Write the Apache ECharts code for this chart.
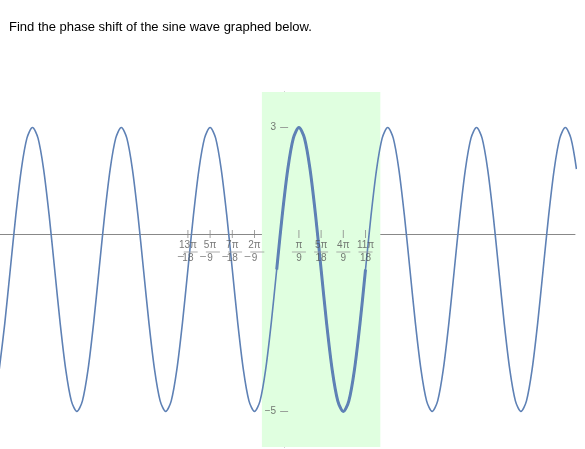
<!DOCTYPE html>
<html>
<head>
<meta charset="UTF-8">
<script src="https://cdn.jsdelivr.net/npm/echarts@6/dist/echarts.min.js"></script>
<style>body{margin:0;background:#fff}#c{width:585px;height:449px}</style>
</head>
<body>
<div id="c"></div>
<script>
var P = Math.PI;
var cycleY = [-1, 0.53, 1.83, 2.70, 3, 2.70, 1.83, 0.53, -1, -2.53, -3.83, -4.70, -5, -4.70, -3.83, -2.53];
var start = -P / 18, step = P / 24;
var tickVals = [-13, -10, -7, -4, 2, 5, 8, 11];     // in pi/18
var tickNum = ['13π', '5π', '7π', '2π', 'π', '5π', '4π', '11π'];
var tickDen = ['18', '9', '18', '9', '9', '18', '9', '18'];
var yTicks = [3, -5];
var greenBand = [-3 * P / 18, 13 * P / 18];

var all = [], hi = [];
for (var k = -50; k <= 54; k++) {
    var pt = [start + k * step, cycleY[((k % 16) + 16) % 16]];
    all.push(pt);
    if (k >= 0 && k <= 16) hi.push(pt);
}
var xTickData = tickVals.map(function (v, i) { return {value: [v * P / 18, 0], idx: i}; });
var yTickData = yTicks.map(function (v) { return [0, v]; });

var chart = echarts.init(document.getElementById('c'));
chart.setOption({
    animation: false,
    title: {text: 'Find the phase shift of the sine wave graphed below.', left: 4, top: 16,
        textStyle: {fontSize: 13, fontWeight: 'normal', color: '#000', fontFamily: 'Liberation Sans'}},
    grid: {left: 0, right: 10, top: 92, bottom: 2, containLabel: false, outerBoundsMode: 'none'},
    xAxis: {
        type: 'value', min: -6.70, max: 6.86,
        splitLine: {show: false}, axisTick: {show: false}, axisLabel: {show: false},
        axisLine: {onZero: true, lineStyle: {color: '#888'}}
    },
    yAxis: {
        type: 'value', min: -6, max: 4,
        splitLine: {show: false}, axisTick: {show: false}, axisLabel: {show: false},
        axisLine: {onZero: true, lineStyle: {color: '#888'}}
    },
    series: [
        {type: 'line', data: all, smooth: 0.3, showSymbol: false, z: 3,
            lineStyle: {color: '#5e81b5', width: 1.6},
            markArea: {silent: true, itemStyle: {color: '#e0ffe0'},
                data: [[{xAxis: greenBand[0]}, {xAxis: greenBand[1]}]]}},
        {type: 'line', data: hi, smooth: 0.3, showSymbol: false, z: 4,
            lineStyle: {color: '#5e81b5', width: 3}},
        {type: 'scatter', data: xTickData, symbol: 'rect', symbolSize: [1, 8], z: 5,
            itemStyle: {color: '#888'},
            label: {show: true, position: 'bottom', distance: 2,
                formatter: function (p) {
                    var i = p.data.idx;
                    return '{n|' + tickNum[i] + '}\n' + (tickVals[i] < 0 ? '{m|_}' : '') + '{b|}\n{d|' + tickDen[i] + '}';
                },
                rich: {
                    n: {fontSize: 10, color: '#555', lineHeight: 11},
                    d: {fontSize: 10, color: '#555', lineHeight: 11},
                    b: {width: 14, height: 1, backgroundColor: '#999', lineHeight: 2},
                    m: {fontSize: 10, color: '#555', lineHeight: 2}
                }}},
        {type: 'scatter', data: yTickData, symbol: 'rect', symbolSize: [8, 1], z: 5,
            itemStyle: {color: '#888'},
            label: {show: true, position: 'left', distance: 4, fontSize: 10, color: '#555',
                formatter: function (p) { var v = p.data[1]; return v < 0 ? '−' + (-v) : String(v); }}}
    ]
});
</script>
</body>
</html>
